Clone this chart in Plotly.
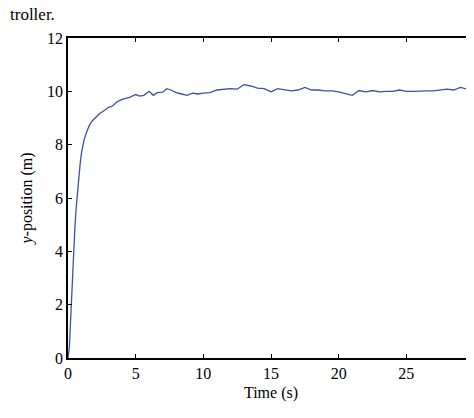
import plotly.graph_objects as go

# time (s) and y-position (m)
t = [0, 0.1, 0.2, 0.3, 0.4, 0.5, 0.6, 0.75, 0.9, 1.0, 1.2, 1.4, 1.6, 1.8, 2.0, 2.3, 2.6, 3.0, 3.3, 3.6, 4.0, 4.3,
     4.6, 5.0, 5.3, 5.6, 6.0, 6.3, 6.6, 7.0, 7.3, 7.6, 8.0, 8.4, 8.8, 9.2, 9.6, 10.0, 10.5, 11.0, 11.5, 12.0,
     12.5, 13.0, 13.5, 14.0, 14.5, 15.0, 15.5, 16.0, 16.5, 17.0, 17.5, 18.0, 18.5, 19.0, 19.5, 20.0, 20.5,
     21.0, 21.5, 22.0, 22.5, 23.0, 23.5, 24.0, 24.5, 25.0, 25.5, 26.0, 26.5, 27.0, 27.5, 28.0, 28.5, 29.0,
     29.5, 30.0]
y = [0, 0.4, 1.5, 2.8, 3.9, 4.8, 5.6, 6.6, 7.3, 7.7, 8.2, 8.5, 8.75, 8.9, 9.0, 9.15, 9.25, 9.4, 9.45, 9.6, 9.7, 9.75,
     9.78, 9.88, 9.82, 9.85, 10.0, 9.85, 9.95, 9.97, 10.1, 10.05, 9.95, 9.9, 9.85, 9.93, 9.9, 9.93, 9.95, 10.05,
     10.08, 10.1, 10.08, 10.25, 10.2, 10.12, 10.1, 9.98, 10.1, 10.05, 10.02, 10.05, 10.15, 10.05, 10.05,
     10.02, 10.02, 9.98, 9.92, 9.85, 10.03, 9.98, 10.03, 9.98, 10.0, 10.0, 10.05, 10.0, 10.0, 10.02, 10.02,
     10.02, 10.05, 10.08, 10.05, 10.15, 10.08, 9.95]

x_ticks = [0, 5, 10, 15, 20, 25, 30]
y_ticks = [0, 2, 4, 6, 8, 10, 12]

fig = go.Figure()
fig.add_trace(go.Scatter(x=t, y=y, mode="lines", line=dict(color="#3f4fa8", width=1.3)))

axis_style = dict(showline=True, linecolor="black", linewidth=1.5, mirror="ticks", ticks="inside",
                  ticklen=4, tickcolor="black", showgrid=False, zeroline=False,
                  tickfont=dict(family="Liberation Serif", size=16, color="black"))

fig.update_layout(
    width=474, height=418,
    margin=dict(l=60, r=8, t=30, b=68, autoexpand=False),
    plot_bgcolor="white", paper_bgcolor="white", showlegend=False,
    xaxis=dict(range=[0, 30], tickvals=x_ticks, title=dict(text="Time (s)", standoff=6,
               font=dict(family="Liberation Serif", size=16, color="black")), **axis_style),
    yaxis=dict(range=[0, 12], tickvals=y_ticks, title=dict(text="<i>y</i>-position (m)", standoff=10,
               font=dict(family="Liberation Serif", size=16, color="black")), **axis_style),
    annotations=[
        dict(text="troller.", xref="paper", yref="paper", x=-0.148, y=1.075, xanchor="left", yanchor="middle",
             showarrow=False, font=dict(family="Liberation Serif", size=17, color="black")),
        dict(text="F<span style='font-size:13px'>IGURE</span> 4: Position of the y-direction of the ... using H∞",
             xref="paper", yref="paper", x=-0.148, y=-0.195, xanchor="left", yanchor="top",
             showarrow=False, font=dict(family="Liberation Serif", size=17, color="black")),
    ],
)

fig.write_html("out.html")
